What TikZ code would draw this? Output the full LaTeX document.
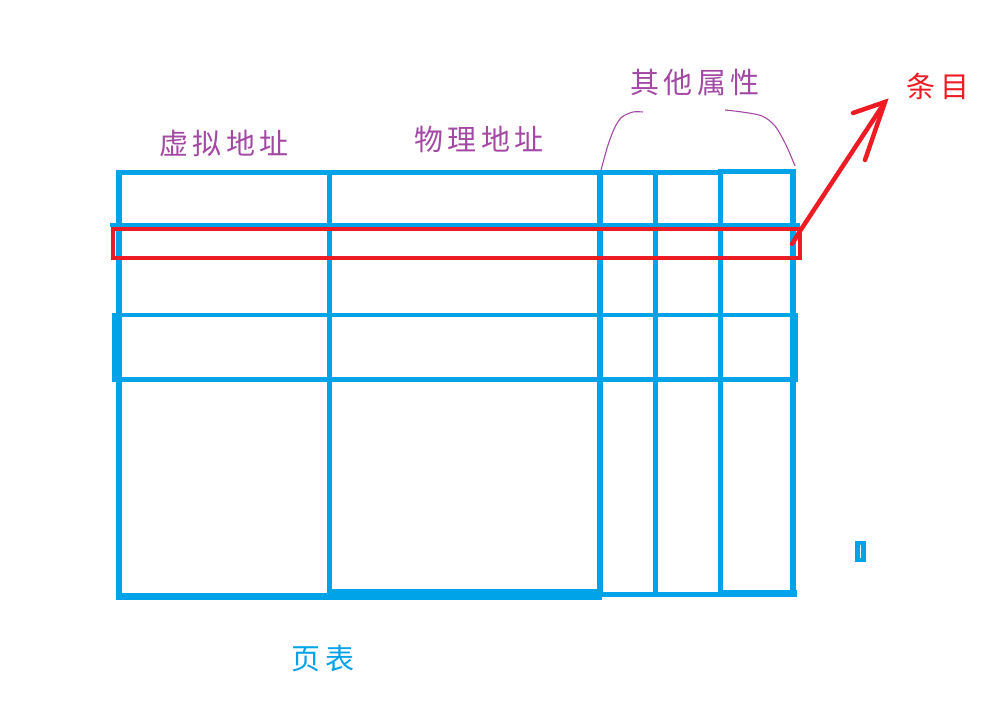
\documentclass[tikz,border=0pt]{standalone}
\usepackage{fontspec}
\usepackage{xcolor}
\newfontfamily\cjk[LetterSpace=15]{Noto Sans CJK SC}
\definecolor{tblblue}{HTML}{00A2E8}
\definecolor{entryred}{HTML}{ED1C24}
\definecolor{labelpurple}{HTML}{A349A4}
\tikzset{
  grid/.style={draw=tblblue, line width=4.5pt},
  entrybox/.style={draw=entryred, line width=4pt},
  label/.style={font=\cjk\fontsize{29}{29}\selectfont, inner sep=0pt}
}
\begin{document}
\begin{tikzpicture}[x=1pt, y=-1pt]
  \useasboundingbox (0,0) rectangle (993,703);
  % labels
  \node[label, text=labelpurple] (virt) at (224,143) {虚拟地址};
  \node[label, text=labelpurple] (phys) at (479,139) {物理地址};
  \node[label, text=labelpurple] (other) at (695,82) {其他属性};
  \node[label, text=entryred] (entry) at (938,86) {条目};
  \node[label, text=tblblue] (table) at (323,659) {页表};
  % table rows
  \draw[grid, line width=5pt] (116,172.5) -- (721,172.5);
  \draw[grid, line width=5pt] (718,171.5) -- (796,171.5);
  \draw[grid, line width=3.5pt] (110,225) -- (800,225);
  \draw[grid] (113,315) -- (798,315);
  \draw[grid] (113,379.5) -- (798,379.5);
  \draw[grid, line width=7pt] (115.5,596.5) -- (331,596.5);
  \draw[grid, line width=11pt] (327,594.5) -- (602,594.5);
  \draw[grid, line width=5pt] (598,594.5) -- (721,594.5);
  \draw[grid, line width=7pt] (718,593.5) -- (797,593.5);
  % table columns
  \draw[grid, line width=6pt] (118.5,170) -- (118.5,600);
  \draw[grid] (329.5,170) -- (329.5,596);
  \draw[grid, line width=6pt] (599.5,170) -- (599.5,597);
  \draw[grid] (655.5,170) -- (655.5,596);
  \draw[grid] (720.5,169) -- (720.5,596);
  \draw[grid, line width=6pt] (793,169) -- (793,597);
  \fill[tblblue] (112,313) rectangle (122,382);
  \fill[tblblue] (793,313) rectangle (798,382);
  % selected entry
  \draw[entrybox] (112.5,229) rectangle (799.5,258);
  \coordinate (entrytail) at (792,244);
  \coordinate (entrytip) at (885,102);
  \draw[entryred, line width=4.5pt, line cap=round, line join=round]
    (entrytail) -- (800,231) -- (entrytip);
  \draw[entryred, line width=4.5pt, line cap=round]
    (853,113) -- (entrytip) -- (865,160);
  % brace over the other attributes
  \draw[labelpurple, line width=1.1pt]
    plot[smooth] coordinates {(601,170) (608,145) (615,127) (622,117) (633,112) (643,112)};
  \draw[labelpurple, line width=1.1pt]
    plot[smooth] coordinates {(725,110) (742,112) (762,116) (775,126) (786,145) (795,166)};
  % cursor mark
  \fill[tblblue] (855,541) rectangle (866,562);
  \draw[white, line width=1.5pt] (860.5,545) -- (860.5,558);
\end{tikzpicture}
\end{document}
